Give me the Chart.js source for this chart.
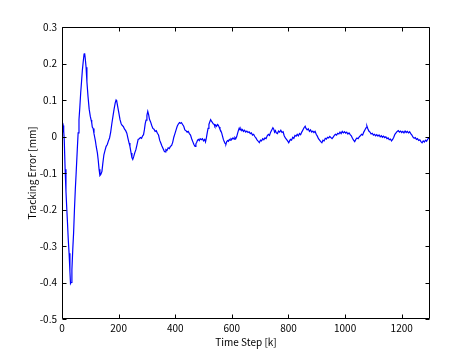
<!DOCTYPE html>
<html>
<head>
<meta charset="utf-8">
<script src="https://cdn.jsdelivr.net/npm/chart.js@4/dist/chart.umd.min.js"></script>
<style>
  html, body { margin: 0; padding: 0; background: #ffffff; }
  canvas { display: block; }
</style>
</head>
<body>
<canvas id="c" width="474" height="359"></canvas>
<script>
// ---- data ----
const steps = [
  0,2,4,6,8,11,14,17,19,22,25,28,30,32,35,38,41,44,47,50,54,57,60,63,66,69,72,75,78,80,82,85,88,92,96,100,
  103,105,107,110,113,115,118,121,125,128,131,134,137,141,144,148,152,156,160,164,168,172,176,180,184,188,191,193,196,200,
  205,209,213,217,221,225,229,233,237,240,244,247,250,253,257,261,265,269,273,277,281,285,288,291,294,297,300,303,306,309,
  313,317,321,325,329,333,337,341,345,349,353,357,361,364,367,371,375,379,383,387,391,395,399,403,407,411,415,419,422,426,
  430,434,438,442,446,450,454,458,462,466,470,473,476,479,482,485,488,492,496,500,504,507,510,513,516,519,522,525,528,531,
  534,537,540,543,546,549,552,555,558,561,564,567,570,573,576,579,582,585,588,591,594,597,600,604,608,611,614,617,620,623,
  626,629,632,635,638,641,645,649,653,657,661,665,669,673,677,681,685,689,693,697,701,705,709,713,717,721,725,729,733,737,
  741,745,748,751,754,757,761,765,769,773,777,781,785,789,793,797,801,804,807,811,815,819,823,827,831,835,839,843,847,851,
  855,859,862,866,870,874,878,882,886,890,894,898,902,906,910,914,918,922,926,930,934,938,942,946,950,954,958,962,966,970,
  974,978,982,986,990,994,998,1002,1006,1010,1014,1018,1022,1026,1030,1034,1038,1042,1046,1050,1054,1058,1062,1066,1070,1074,1077,1080,1084,1088,
  1092,1096,1100,1104,1108,1112,1116,1120,1124,1128,1132,1136,1140,1144,1148,1152,1156,1160,1164,1168,1172,1176,1180,1184,1188,1192,1196,1200,1204,1208,
  1212,1216,1220,1224,1228,1232,1236,1240,1244,1248,1252,1256,1260,1264,1268,1272,1276,1280,1284,1288,1292,1296,1300
];
const trackingError = [
  0.032,0.025,0.030,0.015,-0.010,-0.090,-0.150,-0.200,-0.230,-0.280,-0.320,-0.370,-0.403,-0.400,-0.365,-0.310,-0.264,-0.200,-0.146,-0.100,-0.036,0.010,0.046,0.080,0.119,0.150,0.182,0.205,0.226,0.228,0.215,0.190,0.150,0.109,0.075,0.055,
  0.045,0.038,0.026,0.022,0.008,0.000,-0.012,-0.028,-0.045,-0.065,-0.090,-0.107,-0.104,-0.096,-0.075,-0.050,-0.038,-0.027,-0.022,-0.012,-0.004,0.012,0.035,0.055,0.075,0.092,0.100,0.098,0.085,0.068,
  0.046,0.035,0.030,0.027,0.020,0.016,0.009,-0.005,-0.018,-0.027,-0.045,-0.058,-0.063,-0.056,-0.045,-0.036,-0.022,-0.008,-0.006,-0.003,-0.005,0.002,0.005,0.018,0.035,0.045,0.058,0.069,0.060,0.047,
  0.040,0.030,0.022,0.020,0.014,0.016,0.009,0.004,-0.010,-0.018,-0.026,-0.033,-0.040,-0.042,-0.036,-0.038,-0.031,-0.033,-0.027,-0.025,-0.016,-0.002,0.008,0.018,0.028,0.034,0.038,0.036,0.038,0.033,
  0.028,0.018,0.016,0.012,0.014,0.008,0.004,-0.006,-0.014,-0.022,-0.027,-0.020,-0.016,-0.010,-0.008,-0.011,-0.006,-0.009,-0.006,-0.012,-0.008,-0.015,-0.004,0.010,0.022,0.033,0.040,0.046,0.042,0.039,
  0.035,0.034,0.028,0.031,0.028,0.033,0.031,0.026,0.020,0.016,0.010,0.001,-0.008,-0.014,-0.019,-0.021,-0.014,-0.011,-0.013,-0.008,-0.010,-0.006,-0.008,-0.004,-0.007,-0.003,-0.006,-0.001,0.008,0.016,
  0.023,0.018,0.021,0.016,0.019,0.014,0.017,0.012,0.015,0.011,0.013,0.008,0.010,0.004,0.006,0.000,-0.004,-0.009,-0.013,-0.017,-0.010,-0.012,-0.006,-0.009,-0.004,-0.006,0.002,0.006,0.003,0.012,
  0.018,0.024,0.020,0.012,0.016,0.010,0.008,0.015,0.012,0.017,0.011,0.013,0.002,-0.004,-0.008,-0.012,-0.017,-0.012,-0.008,-0.010,-0.002,-0.005,0.003,0.001,0.006,0.002,0.008,0.005,0.012,0.018,
  0.024,0.028,0.022,0.018,0.021,0.014,0.018,0.012,0.015,0.011,0.014,0.006,0.001,-0.006,-0.010,-0.014,-0.017,-0.010,-0.012,-0.005,-0.007,-0.002,-0.004,0.000,-0.003,-0.006,-0.002,0.003,0.006,0.004,
  0.009,0.007,0.012,0.008,0.014,0.010,0.013,0.009,0.012,0.007,0.010,0.005,0.002,-0.005,-0.010,-0.014,-0.008,-0.004,-0.006,-0.001,0.002,0.006,0.004,0.012,0.018,0.024,0.029,0.022,0.015,0.012,
  0.007,0.009,0.004,0.006,0.002,0.005,0.001,0.004,-0.001,0.002,-0.002,0.001,-0.003,-0.001,-0.006,-0.004,-0.009,-0.007,-0.012,-0.008,-0.002,0.006,0.010,0.014,0.016,0.012,0.015,0.011,0.014,0.010,
  0.015,0.011,0.014,0.010,0.013,0.008,0.004,-0.002,-0.005,-0.003,-0.008,-0.006,-0.011,-0.009,-0.014,-0.017,-0.012,-0.015,-0.010,-0.013,-0.007,-0.004,-0.006
];
const xTickValues = [0, 200, 400, 600, 800, 1000, 1200];
const yTickValues = [-0.5, -0.4, -0.3, -0.2, -0.1, 0, 0.1, 0.2, 0.3];
const xTitle = 'Time Step [k]';
const yTitle = 'Tracking Error [mm]';

// ---- chart ----
const FONT = "'Liberation Sans Narrow', 'Noto Sans CJK JP', 'DejaVu Sans', sans-serif";
const points = steps.map((k, i) => ({ x: k, y: trackingError[i] }));

const frame = {
  id: 'matlabFrame',
  afterDatasetsDraw(chart) {
    const { ctx, chartArea: a, scales } = chart;
    ctx.save();
    ctx.strokeStyle = '#000';
    ctx.lineWidth = 1;
    ctx.beginPath();
    const L = a.left + 0.5, R = a.right - 0.5, T = a.top + 0.5, B = a.bottom - 0.5;
    ctx.rect(L, T, R - L, B - T);
    const tl = 4;
    xTickValues.forEach(v => {
      const px = Math.round(scales.x.getPixelForValue(v)) + 0.5;
      ctx.moveTo(px, B); ctx.lineTo(px, B - tl);
      ctx.moveTo(px, T); ctx.lineTo(px, T + tl);
    });
    yTickValues.forEach(v => {
      const py = Math.round(scales.y.getPixelForValue(v)) + 0.5;
      ctx.moveTo(L, py); ctx.lineTo(L + tl, py);
      ctx.moveTo(R, py); ctx.lineTo(R - tl, py);
    });
    ctx.stroke();
    ctx.restore();
  }
};

new Chart(document.getElementById('c'), {
  type: 'line',
  data: {
    datasets: [{
      data: points,
      borderColor: 'rgb(0,0,255)',
      borderWidth: 1.2,
      pointRadius: 0,
      tension: 0,
      segment: {},
      fill: false
    }]
  },
  options: {
    responsive: false,
    devicePixelRatio: 1,
    animation: false,
    events: [],
    layout: { padding: { left: 0, right: 44, top: 27, bottom: 0 } },
    plugins: { legend: { display: false }, tooltip: { enabled: false } },
    scales: {
      x: {
        type: 'linear',
        min: 0, max: 1300,
        afterFit: s => { s.height = 40; },
        afterBuildTicks: s => { s.ticks = xTickValues.map(v => ({ value: v })); },
        grid: { display: false, drawTicks: false },
        border: { display: false },
        ticks: {
          padding: 3, maxRotation: 0, autoSkip: false, color: '#000',
          font: { family: FONT, size: 10 },
          callback: v => String(v)
        },
        title: {
          display: true, text: xTitle, color: '#000',
          font: { family: FONT, size: 10 },
          padding: { top: 0, bottom: 11 }
        }
      },
      y: {
        type: 'linear',
        min: -0.5, max: 0.3,
        afterFit: s => { s.width = 62; },
        afterBuildTicks: s => { s.ticks = yTickValues.map(v => ({ value: v })); },
        grid: { display: false, drawTicks: false },
        border: { display: false },
        ticks: {
          padding: 5, autoSkip: false, color: '#000',
          font: { family: FONT, size: 10 },
          callback: v => (Math.abs(v) < 1e-9 ? '0' : Number(v).toFixed(1))
        },
        title: {
          display: true, text: yTitle, color: '#000',
          font: { family: FONT, size: 10 },
          padding: { top: 26, bottom: 0 }
        }
      }
    }
  },
  plugins: [frame]
});
</script>
</body>
</html>
